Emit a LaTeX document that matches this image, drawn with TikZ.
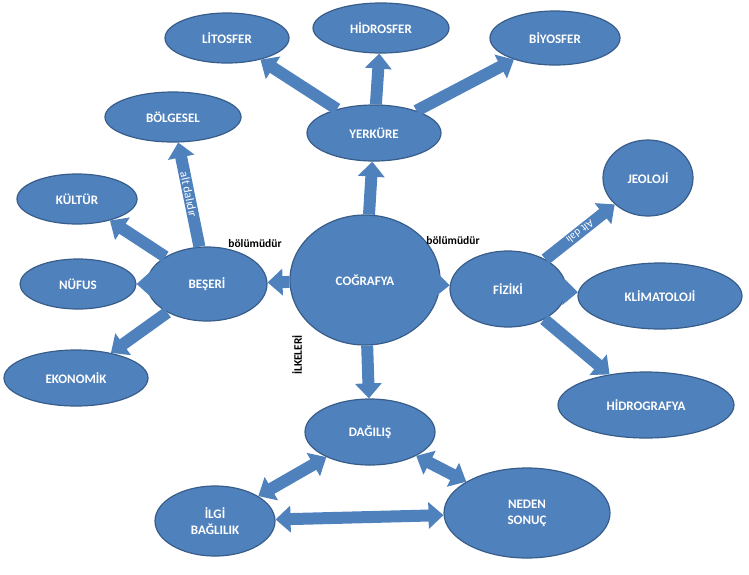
\documentclass[tikz,border=0pt]{standalone}
\usepackage{fontspec}
\setmainfont{Carlito}
\usetikzlibrary{shapes.geometric,arrows.meta}
\definecolor{bfill}{HTML}{4F81BD}
\definecolor{bline}{HTML}{385D8A}
\begin{document}
\begin{tikzpicture}[x=1pt,y=-1pt,
  el/.style={ellipse,fill=bfill,draw=bline,line width=1.2pt,text=white,font=\bfseries\fontsize{13}{16}\selectfont,align=center,inner sep=0pt},
  ar/.style={draw=bfill,line width=12pt,-{Triangle[width=26pt,length=15pt]}},
  dar/.style={draw=bfill,line width=12pt,{Triangle[width=26pt,length=15pt]}-{Triangle[width=26pt,length=15pt]}},
  lbl/.style={font=\bfseries\fontsize{11.5}{14}\selectfont,text=black}]
\useasboundingbox (0,0) rectangle (749,574);
\def\E#1#2#3#4#5#6{\node[el,minimum width=#4*2,minimum height=#5*2] (#1) at (#2,#3) {#6};}
\E{cog}{365}{280}{75}{65}{COĞRAFYA}
\E{yer}{374}{133}{67}{28}{YERKÜRE}
\E{lit}{227}{38}{62}{25}{LİTOSFER}
\E{hid}{381}{28}{68}{25}{HİDROSFER}
\E{biy}{555}{38}{65}{27}{BİYOSFER}
\E{bol}{173}{117}{68}{25}{BÖLGESEL}
\E{kul}{77}{199}{60}{25}{KÜLTÜR}
\E{nuf}{78}{284}{58}{25}{NÜFUS}
\E{eko}{76}{378}{72}{28}{EKONOMİK}
\E{bes}{207}{284}{60}{37}{BEŞERİ}
\E{fiz}{508}{289}{58}{38}{FİZİKİ}
\E{jeo}{648}{178}{45}{38}{JEOLOJİ}
\E{kli}{660}{296}{82}{33}{KLİMATOLOJİ}
\E{hgr}{646}{405}{88}{33}{HİDROGRAFYA}
\E{dag}{370}{432}{65}{33}{DAĞILIŞ}
\E{ilg}{215}{521}{60}{35}{İLGİ\\BAĞLILIK}
\E{ned}{527}{513}{83}{45}{NEDEN\\SONUÇ}
\draw[ar] (cog) -- (yer);
\draw[ar] (yer) -- (lit);
\draw[ar] (yer) -- (hid);
\draw[ar] (yer) -- (biy);
\draw[ar] (cog) -- (bes);
\draw[ar] (bes) -- node[sloped,text=white,inner sep=0pt,font=\fontsize{12}{14}\selectfont]{alt dalıdır} (bol);
\draw[ar] (bes) -- (kul);
\draw[ar] (bes) -- (nuf);
\draw[ar] (bes) -- (eko);
\draw[ar] (cog) -- (fiz);
\draw[ar] (fiz) -- node[rotate=217,text=white,inner sep=0pt,font=\fontsize{11}{13}\selectfont]{Alt dalı} (jeo);
\draw[ar] (fiz) -- (kli);
\draw[ar] (fiz) -- (hgr);
\draw[ar] (cog) -- (dag);
\draw[dar] (dag) -- (ilg);
\draw[dar] (dag) -- (ned);
\draw[dar] (ilg) -- (ned);
\node[lbl] (l1) at (255,243) {bölümüdür};
\node[lbl] (l2) at (453,240) {bölümüdür};
\node[lbl,rotate=90] (l3) at (297,355) {İLKELERİ};
\end{tikzpicture}
\end{document}
